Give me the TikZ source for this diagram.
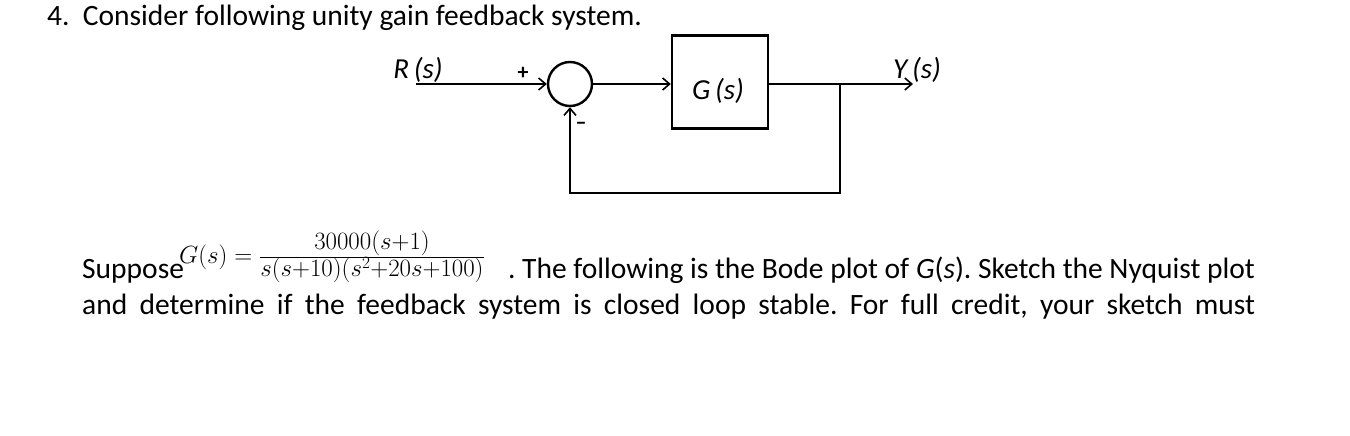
\documentclass[tikz,border=0pt]{standalone}
\usepackage{fontspec}
\setmainfont{Carlito}
\usetikzlibrary{arrows.meta}
\frenchspacing
\begin{document}
\begin{tikzpicture}[x=1pt,y=-1pt,
  wire/.style={line width=2.4pt},
  arr/.style={wire,-{Straight Barb[length=7pt,width=12pt,line width=1.6pt]}},
  lbl/.style={font=\fontsize{29}{32}\selectfont\itshape, inner sep=0pt},
  txt/.style={font=\fontsize{29.5}{33}\selectfont, inner sep=0pt, anchor=base west}]
\useasboundingbox (0,0) rectangle (1350,436);
\node[txt] (t1) at (47,26) {4.\ \ Consider following unity gain feedback system.};
\coordinate (rin) at (416,84);
\node[circle,draw,line width=2.4pt,minimum size=44pt,inner sep=0pt] (sum) at (570,84) {};
\node[draw,line width=2.4pt,minimum width=96pt,minimum height=93pt,inner sep=0pt] (g) at (720,82) {};
\node[lbl] (gl) at (718,91) {G\,(s)};
\coordinate (br) at (840,84);
\coordinate (yout) at (913,84);
\coordinate (bl) at (840,193);
\coordinate (bb) at (570,193);
\draw[arr] (rin) -- (sum.west);
\draw[arr] (sum.east) -- (g.west |- sum.east);
\draw[wire] (g.east |- br) -- (br);
\draw[arr] (br) -- (yout);
\draw[arr] (br) -- (bl) -- (bb) -- (sum.south);
\node[lbl] (rl) at (418,70) {R\,(s)};
\node[lbl] (yl) at (917,70) {Y\,(s)};
\node[font=\fontsize{22}{24}\selectfont\bfseries,inner sep=0pt] (plus) at (523,73) {+};
\node[font=\fontsize{22}{24}\selectfont\bfseries,inner sep=0pt] (minus) at (581,126) {\textendash};
\node[txt] (sup) at (82,278) {Suppose};
\node[inner sep=0pt,anchor=base west,font=\fontsize{36}{40}\selectfont] (eq) at (179,263) {$G(s)=\frac{30000(s+1)}{s(s+10)(s^2+20s+100)}$};
\node[txt,anchor=base east] (rest) at (1255,278) {. The following is the Bode plot of \textit{G}(\textit{s}). Sketch the Nyquist plot};
\node[txt] (t3) at (82,314) {\makebox[1173pt][s]{and determine if the feedback system is closed loop stable. For full credit, your sketch must}};
\end{tikzpicture}
\end{document}
